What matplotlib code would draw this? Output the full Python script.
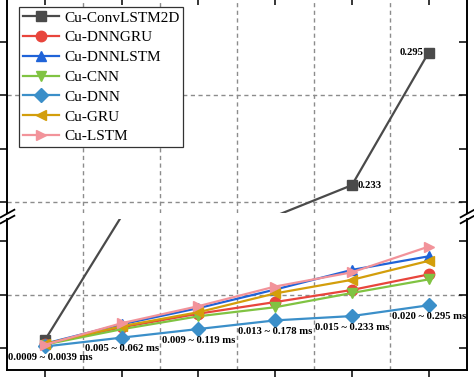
import numpy as np
import matplotlib
matplotlib.use('Agg')
import matplotlib.pyplot as plt

plt.rcParams['font.family'] = ['Liberation Serif', 'DejaVu Serif']

# ---------------- data ----------------
x = [1, 2, 3, 4, 5, 6]
series_names = ['Cu-ConvLSTM2D', 'Cu-DNNGRU', 'Cu-DNNLSTM', 'Cu-CNN', 'Cu-DNN', 'Cu-GRU', 'Cu-LSTM']
conv_lstm2d = [0.0039, 0.062, 0.119, 0.178, 0.233, 0.295]
dnn_gru = [0.0020, 0.0098, 0.0161, 0.0215, 0.0271, 0.0343]
dnn_lstm = [0.0022, 0.0112, 0.0187, 0.0273, 0.0364, 0.0427]
cnn = [0.0018, 0.0089, 0.0149, 0.0191, 0.0257, 0.0320]
dnn = [0.0009, 0.005, 0.009, 0.013, 0.015, 0.020]
gru = [0.0021, 0.0103, 0.0168, 0.0255, 0.0318, 0.0406]
lstm = [0.0017, 0.0117, 0.0196, 0.0287, 0.0353, 0.0472]
range_labels = ['0.0009 ~ 0.0039 ms', '0.005 ~ 0.062 ms', '0.009 ~ 0.119 ms',
                '0.013 ~ 0.178 ms', '0.015 ~ 0.233 ms', '0.020 ~ 0.295 ms']

colors = ['#4a4a4a', '#e8453c', '#1f63d8', '#80c342', '#3b8fc9', '#d39e0b', '#f2939a']
markers = ['s', 'o', '^', 'v', 'D', '<', '>']

# ---------------- layout ----------------
W, H = 474, 377
fig = plt.figure(figsize=(W / 100, H / 100), dpi=100)
left = 6.6 / W
width = (467 - 6.6) / W
hi_bottom, hi_top = 1 - 213 / H, 1 + 1 / H
lo_bottom, lo_top = 1 - 370 / H, 1 - 219 / H
ax_hi = fig.add_axes([left, hi_bottom, width, hi_top - hi_bottom])
ax_lo = fig.add_axes([left, lo_bottom, width, lo_top - lo_bottom])

lo_lim = (-0.01, 0.06)
hi_lim = (0.22, 0.32)
ax_lo.set_ylim(*lo_lim)
ax_hi.set_ylim(*hi_lim)
for ax in (ax_lo, ax_hi):
    ax.set_xlim(0.5, 6.5)

# values falling in the axis break are drawn at the break centre (as in the source plot)
gap_mid = (hi_bottom + lo_top) / 2
lo_gap_val = lo_lim[1] + (gap_mid - lo_top) / (lo_top - lo_bottom) * (lo_lim[1] - lo_lim[0])
hi_gap_val = hi_lim[0] - (hi_bottom - gap_mid) / (hi_top - hi_bottom) * (hi_lim[1] - hi_lim[0])

all_series = [conv_lstm2d, dnn_gru, dnn_lstm, cnn, dnn, gru, lstm]
handles = []
for name, vals, c, m in zip(series_names, all_series, colors, markers):
    v = np.array(vals, dtype=float)
    ms = 7.5 if m != 's' else 7
    lo_v = np.where(v > lo_lim[1], lo_gap_val, v)
    lo_mark = [i for i in range(len(v)) if lo_lim[0] <= v[i] <= lo_lim[1]]
    h, = ax_lo.plot(x, lo_v, color=c, marker=m, markersize=ms, lw=1.6,
                    markevery=lo_mark, zorder=3, label=name)
    if v.max() > hi_lim[0]:
        hi_v = np.where(v < hi_lim[0], hi_gap_val, v)
        hi_mark = [i for i in range(len(v)) if hi_lim[0] <= v[i] <= hi_lim[1]]
        h, = ax_hi.plot(x, hi_v, color=c, marker=m, markersize=ms, lw=1.6,
                        markevery=hi_mark, zorder=3, label=name)
    handles.append(h)

# annotations
for i, (xi, yi, lab) in enumerate(zip(x, dnn, range_labels)):
    dx = 4 if i == 0 else 0
    ax_lo.annotate(lab, (xi, yi), xytext=(dx, -8), textcoords='offset points',
                   ha='center', va='center', fontsize=7.7, fontweight='bold', zorder=5)
ax_hi.annotate(f'{conv_lstm2d[4]:.3f}', (x[4], conv_lstm2d[4]), xytext=(4, 0),
               textcoords='offset points', ha='left', va='center',
               fontsize=7.7, fontweight='bold')
ax_hi.annotate(f'{conv_lstm2d[5]:.3f}', (x[5], conv_lstm2d[5]), xytext=(-4, 0),
               textcoords='offset points', ha='right', va='center',
               fontsize=7.7, fontweight='bold')

# grid at minor positions
grid_kw = dict(color='#8c8c8c', lw=1.0, ls=(0, (3, 2.5)), zorder=0.5)
for ax in (ax_lo, ax_hi):
    for gx in [1.5, 2.5, 3.5, 4.5, 5.5]:
        ax.axvline(gx, **grid_kw)
ax_lo.axhline(0.025, **grid_kw)
for gy in [0.225, 0.275]:
    ax_hi.axhline(gy, **grid_kw)

# ticks & spines
ax_lo.set_yticks([0, 0.025, 0.05])
ax_hi.set_yticks([0.225, 0.25, 0.275, 0.3])
for ax in (ax_lo, ax_hi):
    ax.set_xticks(x)
    for s in ax.spines.values():
        s.set_linewidth(1.4)
    ax.tick_params(axis='y', left=True, right=False, direction='out', length=5,
                   width=1.1, labelleft=False)
    tw = ax.twinx()
    tw.set_ylim(ax.get_ylim())
    tw.set_yticks(ax.get_yticks())
    tw.tick_params(axis='y', direction='in', length=6, width=1.1, labelright=False)
    for s in tw.spines.values():
        s.set_visible(False)
ax_hi.spines['bottom'].set_visible(False)
ax_lo.spines['top'].set_visible(False)
ax_lo.tick_params(axis='x', bottom=True, top=False, direction='out', length=5,
                  width=1.1, labelbottom=False)
ax_hi.tick_params(axis='x', bottom=False, top=True, direction='in', length=4.5,
                  width=1.1, labelbottom=False, labeltop=False)

# break marks
bk = dict(marker=[(-1, -0.55), (1, 0.55)], markersize=11, linestyle='none',
          color='k', mec='k', mew=1.3, clip_on=False, zorder=6)
ax_hi.plot([0, 1], [0, 0], transform=ax_hi.transAxes, **bk)
ax_lo.plot([0, 1], [1, 1], transform=ax_lo.transAxes, **bk)

leg = fig.legend(handles=handles, loc='upper left',
                 bbox_to_anchor=(19 / W, 1 - 7 / H), bbox_transform=fig.transFigure,
                 borderaxespad=0, fontsize=11, frameon=True, fancybox=False,
                 framealpha=1, edgecolor='#333333', handlelength=2.4,
                 handletextpad=0.3, borderpad=0.25, labelspacing=0.4)
leg.get_frame().set_linewidth(0.9)

fig.savefig('out.png', dpi=100)
